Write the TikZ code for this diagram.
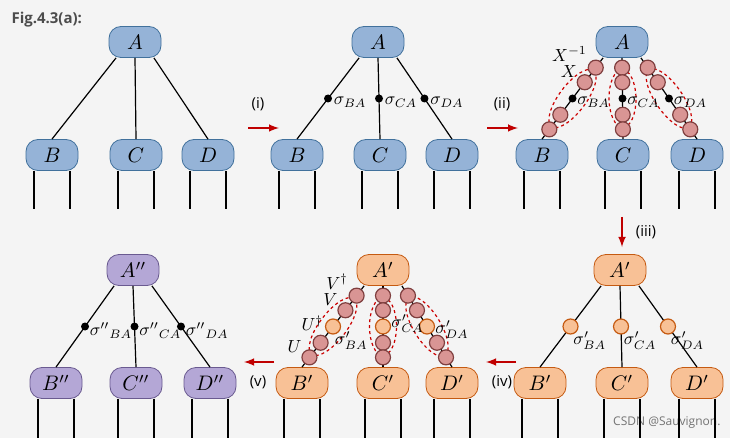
\documentclass[tikz,border=0pt]{standalone}
\usepackage{fontspec}
\setsansfont{Open Sans}
\usetikzlibrary{shapes.geometric}
\definecolor{bgc}{HTML}{F4F4F4}
\definecolor{bfill}{HTML}{95B3D7}\definecolor{bdraw}{HTML}{41719C}
\definecolor{ofill}{HTML}{F8C196}\definecolor{odraw}{HTML}{C55A11}
\definecolor{pfill}{HTML}{B4A7D6}\definecolor{pdraw}{HTML}{6A5A90}
\definecolor{cfill}{HTML}{D99594}\definecolor{cdraw}{HTML}{7F3F3F}
\definecolor{arr}{HTML}{C00000}
\newcommand\nm[1]{\scalebox{2.1}{$#1$}}
\newcommand\lm[1]{\scalebox{1.75}{$#1$}}
\tikzset{
 tn/.style={rounded corners=12pt,minimum width=52pt,minimum height=31pt,draw,thick,inner sep=0},
 bn/.style={tn,fill=bfill,draw=bdraw},
 on/.style={tn,fill=ofill,draw=odraw},
 pn/.style={tn,fill=pfill,draw=pdraw},
 pc/.style={circle,fill=cfill,draw=cdraw,minimum size=15pt,inner sep=0},
 oc/.style={circle,fill=ofill,draw=odraw,minimum size=15pt,inner sep=0},
 bd/.style={circle,fill=black,minimum size=8pt,inner sep=0},
 el/.style={ellipse,draw=red!80!black,dashed,minimum height=27pt,sloped},
 lab/.style={inner sep=1pt},
 ra/.style={-latex,draw=arr,line width=2.4pt},
 rl/.style={font=\sffamily\fontsize{15}{17}\selectfont},
 ln/.style={line width=1.2pt}
}
\newcommand\mylegs[2]{\draw[ln] ([xshift=-18pt]#1.south) -- ++(0,-#2pt); \draw[ln] ([xshift=18pt]#1.south) -- ++(0,-#2pt);}
\begin{document}
\begin{tikzpicture}[x=1pt,y=-1pt]
\useasboundingbox (0,0) rectangle (730,438);
\fill[bgc] (0,0) rectangle (730,438);
\node[anchor=west,font=\sffamily\bfseries\fontsize{15}{17}\selectfont,text=black!70] (title) at (8,20) {Fig.4.3(a):};
\node[anchor=east,font=\sffamily\fontsize{12}{14}\selectfont,text=black!55] (wm) at (724,423) {CSDN @Sauvignon.};
% panel 1
\node[bn] (A1) at (135,42) {\nm{A}};
\node[bn] (B1) at (52,155) {\nm{B}};
\node[bn] (C1) at (136,155) {\nm{C}};
\node[bn] (D1) at (208,155) {\nm{D}};
\draw[ln] (A1.220) -- (B1.north); \draw[ln] (A1.south) -- (C1.north); \draw[ln] (A1.320) -- (D1.north);
\mylegs{B1}{38}\mylegs{C1}{38}\mylegs{D1}{38}
% panel 2
\node[bn] (A2) at (378,42) {\nm{A}};
\node[bn] (B2) at (297,155) {\nm{B}};
\node[bn] (C2) at (380,155) {\nm{C}};
\node[bn] (D2) at (452,155) {\nm{D}};
\draw[ln] (A2.220) -- node[bd,pos=.5](d21){} (B2.north); \draw[ln] (A2.south) -- node[bd,pos=.5](d22){} (C2.north); \draw[ln] (A2.320) -- node[bd,pos=.5](d23){} (D2.north);
\node[lab,anchor=west] at ([yshift=-4pt]d21.east) {\lm{\sigma_{BA}}};
\node[lab,anchor=west] at ([yshift=-4pt]d22.east) {\lm{\sigma_{CA}}};
\node[lab,anchor=west] at ([yshift=-4pt]d23.east) {\lm{\sigma_{DA}}};
\mylegs{B2}{38}\mylegs{C2}{38}\mylegs{D2}{38}
\coordinate (i1) at (248,128); \coordinate (i2) at (279,128);
\draw[ra] (i1) -- (i2); \node[rl] at (258,104) {(i)};
% panel 3
\node[bn] (A3) at (622,42) {\nm{A}};
\node[bn] (B3) at (542,155) {\nm{B}};
\node[bn] (C3) at (623,155) {\nm{C}};
\node[bn] (D3) at (697,155) {\nm{D}};
\foreach \s/\e/\n/\w in {A3.220/B3.north/1/70, A3.south/C3.north/2/58, A3.320/D3.north/3/70}{
 \draw[ln] (\s) -- node[el,pos=.5,minimum width=\w pt]{} node[pc,pos=.12](c3\n a){} node[pc,pos=.3](c3\n b){} node[bd,pos=.5](c3\n c){} node[pc,pos=.7](c3\n d){} node[pc,pos=.88](c3\n e){} (\e);}
\node[lab,anchor=west] at ([xshift=-1pt,yshift=-4pt]c31c.east) {\lm{\sigma_{BA}}};
\node[lab,anchor=west] at ([xshift=-1pt,yshift=-4pt]c32c.east) {\lm{\sigma_{CA}}};
\node[lab,anchor=west] at ([xshift=-1pt,yshift=-4pt]c33c.east) {\lm{\sigma_{DA}}};
\node[lab,anchor=east] at ([xshift=-2pt,yshift=8pt]c31a.north west) {\lm{X^{-1}}};
\node[lab,anchor=east] at ([xshift=-1pt,yshift=5pt]c31b.north west) {\lm{X}};
\mylegs{B3}{38}\mylegs{C3}{38}\mylegs{D3}{38}
\coordinate (ii1) at (487,128); \coordinate (ii2) at (518,128);
\draw[ra] (ii1) -- (ii2); \node[rl] at (502,104) {(ii)};
\coordinate (iii1) at (622,217); \coordinate (iii2) at (622,247);
\draw[ra] (iii1) -- (iii2); \node[rl] at (646,232) {(iii)};
% panel 4 (bottom right)
\node[on] (A4) at (620,270) {\nm{A'}};
\node[on] (B4) at (540,383) {\nm{B'}};
\node[on] (C4) at (622,383) {\nm{C'}};
\node[on] (D4) at (697,383) {\nm{D'}};
\draw[ln] (A4.220) -- node[oc,pos=.5](d41){} (B4.north); \draw[ln] (A4.south) -- node[oc,pos=.5](d42){} (C4.north); \draw[ln] (A4.320) -- node[oc,pos=.5](d43){} (D4.north);
\node[lab,anchor=north west] at ([xshift=-4pt,yshift=2pt]d41.south east) {\lm{\sigma'_{BA}}};
\node[lab,anchor=north west] at ([xshift=-4pt,yshift=2pt]d42.south east) {\lm{\sigma'_{CA}}};
\node[lab,anchor=north west] at ([xshift=-4pt,yshift=2pt]d43.south east) {\lm{\sigma'_{DA}}};
\mylegs{B4}{40}\mylegs{C4}{40}\mylegs{D4}{40}
\coordinate (iv1) at (516,362); \coordinate (iv2) at (486,362);
\draw[ra] (iv1) -- (iv2); \node[rl] at (502,382) {(iv)};
% panel 5 (bottom middle)
\node[on] (A5) at (383,270) {\nm{A'}};
\node[on] (B5) at (302,383) {\nm{B'}};
\node[on] (C5) at (383,383) {\nm{C'}};
\node[on] (D5) at (452,383) {\nm{D'}};
\foreach \s/\e/\n/\w in {A5.220/B5.north/1/70, A5.south/C5.north/2/58, A5.320/D5.north/3/68}{
 \draw[ln] (\s) -- node[el,pos=.5,minimum width=\w pt]{} node[pc,pos=.12](c5\n a){} node[pc,pos=.3](c5\n b){} node[oc,pos=.5](c5\n c){} node[pc,pos=.7](c5\n d){} node[pc,pos=.88](c5\n e){} (\e);}
\node[lab,anchor=north west] at ([xshift=-5pt,yshift=2pt]c51c.south east) {\lm{\sigma'_{BA}}};
\node[lab,anchor=west] at ([xshift=-1pt,yshift=3pt]c52c.east) {\lm{\sigma'_{CA}}};
\node[lab,anchor=west] at ([xshift=-1pt,yshift=-3pt]c53c.east) {\lm{\sigma'_{DA}}};
\node[lab,anchor=east] at ([xshift=-2pt,yshift=8pt]c51a.north west) {\lm{V^{\dagger}}};
\node[lab,anchor=east] at ([xshift=-1pt,yshift=5pt]c51b.north west) {\lm{V}};
\node[lab,anchor=east] at ([xshift=-1pt,yshift=3pt]c51c.west) {\lm{U^{\dagger}}};
\node[lab,anchor=east] at ([xshift=-1pt,yshift=5pt]c51e.north west) {\lm{U}};
\mylegs{B5}{40}\mylegs{C5}{40}\mylegs{D5}{40}
\coordinate (v1) at (274,362); \coordinate (v2) at (244,362);
\draw[ra] (v1) -- (v2); \node[rl] at (258,382) {(v)};
% panel 6 (bottom left)
\node[pn] (A6) at (133,270) {\nm{A''}};
\node[pn] (B6) at (56,383) {\nm{B''}};
\node[pn] (C6) at (136,383) {\nm{C''}};
\node[pn] (D6) at (210,383) {\nm{D''}};
\draw[ln] (A6.220) -- node[bd,pos=.5](d61){} (B6.north); \draw[ln] (A6.south) -- node[bd,pos=.5](d62){} (C6.north); \draw[ln] (A6.320) -- node[bd,pos=.5](d63){} (D6.north);
\node[lab,anchor=west] at ([xshift=-1pt,yshift=-4pt]d61.east) {\lm{\sigma''{}_{BA}}};
\node[lab,anchor=west] at ([xshift=-1pt,yshift=-4pt]d62.east) {\lm{\sigma''{}_{CA}}};
\node[lab,anchor=west] at ([xshift=-1pt,yshift=-4pt]d63.east) {\lm{\sigma''{}_{DA}}};
\mylegs{B6}{40}\mylegs{C6}{40}\mylegs{D6}{40}
\end{tikzpicture}
\end{document}
